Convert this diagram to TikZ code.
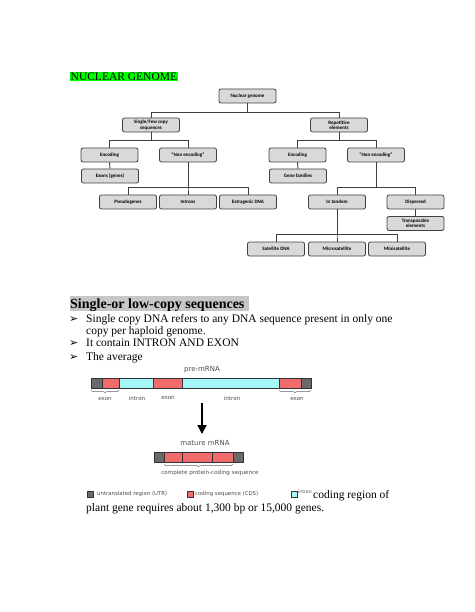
\documentclass[tikz,border=0pt]{standalone}
\usepackage{fontspec}
\setmainfont{Liberation Serif}
\newfontfamily\boxfont{Carlito}
\newfontfamily\labfont{DejaVu Sans}
\usetikzlibrary{arrows.meta,decorations.pathreplacing}
\definecolor{cdsred}{HTML}{F26B6B}
\definecolor{introncyan}{HTML}{A6F8F8}
\definecolor{utrgray}{HTML}{6A6A6A}

\begin{document}
\begin{tikzpicture}[>={Triangle[width=9pt,length=9pt]},
  box/.style={draw=black!75, fill=black!15, rounded corners=2pt, line width=0.8pt, minimum width=57pt, minimum height=14pt, inner sep=1pt, align=center, font=\boxfont\bfseries\fontsize{5}{5.4}\selectfont},
  link/.style={draw=black!75, line width=0.9pt},
  body/.style={anchor=base west, inner sep=0pt, font=\fontsize{11.5}{13}\selectfont},
  lab/.style={font=\labfont\fontsize{5.6}{6}\selectfont, text=black!70, inner sep=0pt},
  seg/.style={draw=black!80, line width=0.6pt},
  brc/.style={decorate, decoration={brace, mirror, amplitude=2pt}, draw=black!60, line width=0.5pt}]
  \useasboundingbox (0pt,0pt) rectangle (474pt,-612pt);

  % tree of the nuclear genome
  \draw (247.5pt, -96pt)node[box](0){Nuclear genome};
  \draw (151pt, -125pt)node[box](1){Single/Few copy\\sequences};
  \draw (339pt, -125pt)node[box](2){Repetitive\\elements};
  \draw (109.5pt, -155pt)node[box](3){Encoding};
  \draw (188pt, -155pt)node[box](4){“Non encoding”};
  \draw (297.5pt, -155pt)node[box](5){Encoding};
  \draw (376pt, -155pt)node[box](6){“Non encoding”};
  \draw (110pt, -176pt)node[box](7){Exons (genes)};
  \draw (298pt, -176pt)node[box](8){Gene families};
  \draw (128pt, -202pt)node[box](9){Pseudogenes};
  \draw (188pt, -202pt)node[box](10){Introns};
  \draw (248pt, -202pt)node[box](11){Extragenic DNA};
  \draw (337pt, -202pt)node[box](12){In tandem};
  \draw (415.5pt, -202pt)node[box](13){Dispersed};
  \draw (415.5pt, -223.5pt)node[box](14){Transposable\\elements};
  \draw (276pt, -249pt)node[box](15){Satellite DNA};
  \draw (337pt, -249pt)node[box](16){Microsatellite};
  \draw (397pt, -249pt)node[box](17){Minisatellite};
  \path[link] (0.south) -- ++(0,-9pt) -| (1.north);
  \path[link] (0.south) -- ++(0,-9pt) -| (2.north);
  \path[link] (1.south) -- ++(0,-8pt) -| (3.north);
  \path[link] (1.south) -- ++(0,-8pt) -| (4.north);
  \path[link] (2.south) -- ++(0,-8pt) -| (5.north);
  \path[link] (2.south) -- ++(0,-8pt) -| (6.north);
  \path[link] (3.south) -- (7.north);
  \path[link] (5.south) -- (8.north);
  \path[link] (4.south) -- ++(0,-25pt) -| (9.north);
  \path[link] (4.south) -- ++(0,-25pt) -| (10.north);
  \path[link] (4.south) -- ++(0,-25pt) -| (11.north);
  \path[link] (6.south) -- ++(0,-25pt) -| (12.north);
  \path[link] (6.south) -- ++(0,-25pt) -| (13.north);
  \path[link] (13.south) -- (14.north);
  \path[link] (12.south) -- ++(0,-25pt) -| (15.north);
  \path[link] (12.south) -- ++(0,-25pt) -| (16.north);
  \path[link] (12.south) -- ++(0,-25pt) -| (17.north);

  % text of the page
  \draw (70pt, -76.5pt)node[anchor=west, fill=green, inner xsep=0.5pt, inner ysep=1pt, font=\fontsize{11.5}{13}\selectfont](t0){NUCLEAR GENOME};
  \draw (70pt, -308pt)node[body, fill=black!22, text height=12.5pt, text depth=3pt, font=\bfseries\fontsize{14}{16}\selectfont](t1){Single-or low-copy sequences\hspace*{5pt}};
  \draw (69pt, -322pt)node[body, font=\labfont\fontsize{11}{12}\selectfont](b1){➢};
  \draw (69pt, -346pt)node[body, font=\labfont\fontsize{11}{12}\selectfont](b2){➢};
  \draw (69pt, -360pt)node[body, font=\labfont\fontsize{11}{12}\selectfont](b3){➢};
  \draw (86pt, -322pt)node[body](t2){Single copy DNA refers to any DNA sequence present in only one};
  \draw (86pt, -334pt)node[body](t3){copy per haploid genome.};
  \draw (86pt, -346pt)node[body](t4){It contain INTRON AND EXON};
  \draw (86pt, -360pt)node[body](t5){The average};
  \draw (313pt, -498pt)node[body](t6){coding region of};
  \draw (86pt, -511pt)node[body](t7){plant gene requires about 1,300 bp or 15,000 genes.};

  % pre-mRNA
  \draw (202pt, -370pt)node[lab, font=\labfont\fontsize{7}{8}\selectfont](pre){pre-mRNA};
  \draw[seg, fill=utrgray] (91pt,-378pt) rectangle (102pt,-388pt);
  \draw[seg, fill=cdsred] (102pt,-378pt) rectangle (119pt,-388pt);
  \draw[seg, fill=introncyan] (119pt,-378pt) rectangle (153pt,-388pt);
  \draw[seg, fill=cdsred] (153pt,-378pt) rectangle (182pt,-388pt);
  \draw[seg, fill=introncyan] (182pt,-378pt) rectangle (279pt,-388pt);
  \draw[seg, fill=cdsred] (279pt,-378pt) rectangle (301pt,-388pt);
  \draw[seg, fill=utrgray] (301pt,-378pt) rectangle (311pt,-388pt);
  \draw[brc] (91pt,-390.5pt) -- (119pt,-390.5pt);
  \draw[brc] (279pt,-390.5pt) -- (311pt,-390.5pt);
  \draw (105pt, -399pt)node[lab](e1){exon};
  \draw (137pt, -398pt)node[lab](i1){intron};
  \draw (168pt, -398pt)node[lab](e2){exon};
  \draw (232pt, -398pt)node[lab](i2){intron};
  \draw (297pt, -399pt)node[lab](e3){exon};

  \coordinate (a0) at (202pt, -403pt);
  \coordinate (a1) at (202pt, -434pt);
  \draw[->, line width=1.6pt] (a0) -- (a1);

  % mature mRNA
  \draw (205pt, -443pt)node[lab, font=\labfont\fontsize{7}{8}\selectfont](mat){mature mRNA};
  \draw[seg, fill=utrgray] (154pt,-452pt) rectangle (164pt,-462pt);
  \draw[seg, fill=cdsred] (164pt,-452pt) rectangle (182pt,-462pt);
  \draw[seg, fill=cdsred] (182pt,-452pt) rectangle (212pt,-462pt);
  \draw[seg, fill=cdsred] (212pt,-452pt) rectangle (233pt,-462pt);
  \draw[seg, fill=utrgray] (233pt,-452pt) rectangle (243pt,-462pt);
  \draw[brc] (164pt,-464.5pt) -- (233pt,-464.5pt);
  \draw (210pt, -473pt)node[lab](cds){complete protein-coding sequence};

  % legend
  \draw[seg, fill=utrgray] (87pt,-491pt) rectangle (93pt,-497pt);
  \draw[seg, fill=cdsred] (187pt,-491pt) rectangle (193pt,-497pt);
  \draw[seg, fill=introncyan] (291pt,-491pt) rectangle (297pt,-497pt);
  \draw (97pt, -494pt)node[lab, anchor=west, font=\labfont\fontsize{5.4}{6}\selectfont](l1){untranslated region (UTR)};
  \draw (195pt, -494pt)node[lab, anchor=west, font=\labfont\fontsize{5.4}{6}\selectfont](l2){coding sequence (CDS)};
  \draw (298pt, -492pt)node[lab, anchor=west, font=\labfont\fontsize{4.6}{5}\selectfont](l3){intron};
\end{tikzpicture}
\end{document}
